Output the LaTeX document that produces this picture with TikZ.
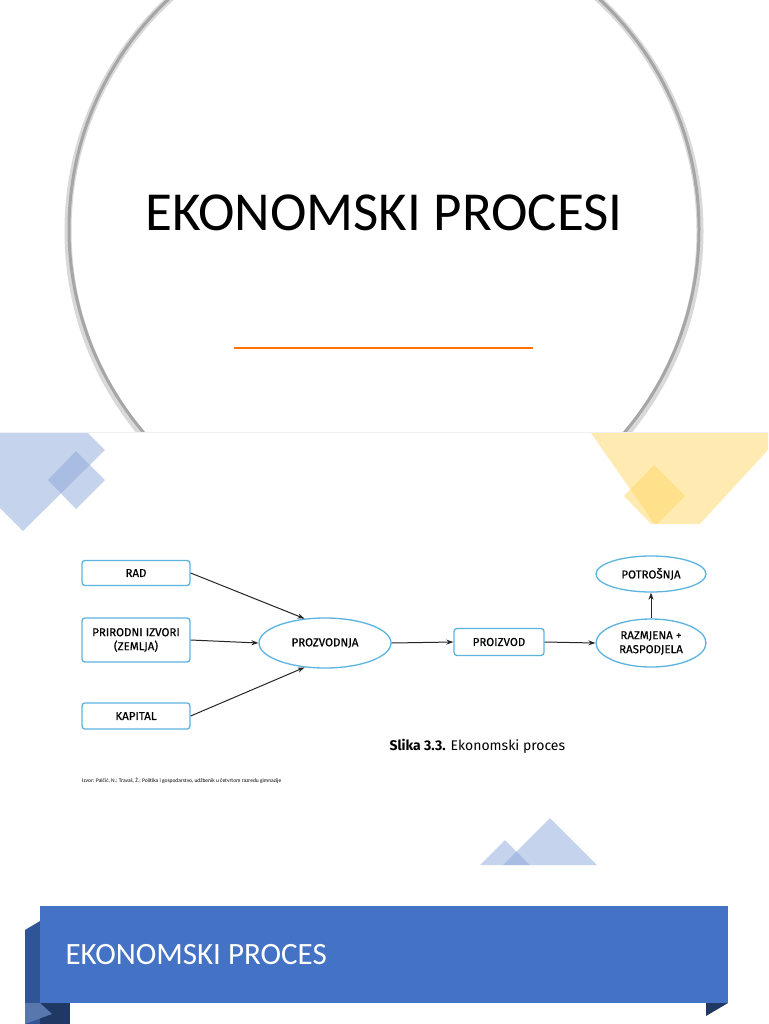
\documentclass[tikz,border=0pt]{standalone}
\usepackage{fontspec}
\setmainfont{Carlito}
\newfontfamily\diag[FakeBold=0.6]{Fira Sans}
\usetikzlibrary{shapes.geometric,arrows.meta}
\definecolor{bx}{HTML}{5BB4E0}
\definecolor{lb}{HTML}{8EA9DB}
\definecolor{yl}{HTML}{FFD966}
\definecolor{ban}{HTML}{4472C4}
\definecolor{bandk}{HTML}{2F5597}
\definecolor{navy}{HTML}{203864}
\tikzset{
 rbox/.style={draw=bx,line width=1.3pt,rounded corners=3pt,minimum width=108pt,align=center,font=\diag\fontsize{11.5}{14}\selectfont},
 ell/.style={ellipse,draw=bx,line width=1.3pt,align=center,font=\diag\fontsize{11.5}{14}\selectfont,inner sep=0pt},
 arr/.style={-{Stealth[length=7pt,width=5pt]},line width=1pt,black!85}
}
\begin{document}
\begin{tikzpicture}[x=1pt,y=-1pt]
\useasboundingbox (0,0) rectangle (768,1024);
\fill[white] (0,0) rectangle (768,1024);
% title circle
\begin{scope}
\clip (0,0) rectangle (768,432);
\draw[line width=7pt,black!15] (384,231) circle (316);
\draw[line width=3pt,black!35] (384,229) circle (315);
\end{scope}
\draw[black!6] (0,432.5) -- (768,432.5);
\node[font=\fontsize{55}{60}\selectfont] (title) at (384,213) {EKONOMSKI PROCESI};
\draw[line width=1.5pt,orange!90!red] (234,348) -- (533,348);
% decorations
\fill[lb,opacity=0.5] (0,433) -- (88,433) -- (105,450) -- (23,531) -- (0,508) -- cycle;
\fill[lb,opacity=0.5] (76,451) -- (105,480) -- (76,509) -- (48,480) -- cycle;
\begin{scope}
\clip (0,433) rectangle (768,523);
\fill[yl,opacity=0.5] (591,433) -- (768,433) -- (768,450) -- (674,552) -- cycle;
\fill[yl,opacity=0.5] (654,465) -- (685,496) -- (654,527) -- (624,496) -- cycle;
\end{scope}
\fill[lb,opacity=0.5] (550,818) -- (597,865) -- (503,865) -- cycle;
\fill[lb,opacity=0.5] (505,840) -- (530,865) -- (480,865) -- cycle;
% diagram
\node[rbox,minimum height=25pt] (rad) at (136,573) {RAD};
\node[rbox,minimum height=44pt] (pri) at (136,640) {PRIRODNI IZVORI\\(ZEMLJA)};
\node[rbox,minimum height=26pt] (kap) at (136,716) {KAPITAL};
\node[ell,minimum width=132pt,minimum height=50pt] (pro) at (325,643) {PROZVODNJA};
\node[rbox,minimum width=90pt,minimum height=27pt] (pz) at (499,642) {PROIZVOD};
\node[ell,minimum width=110pt,minimum height=48pt] (raz) at (651,643) {RAZMJENA +\\RASPODJELA};
\node[ell,minimum width=110pt,minimum height=36pt] (pot) at (651,574) {POTROŠNJA};
\draw[arr] (rad.east) -- (pro.130);
\draw[arr] (pri.east) -- (pro.west);
\draw[arr] (kap.east) -- (pro.230);
\draw[arr] (pro.east) -- (pz.west);
\draw[arr] (pz.east) -- (raz.west);
\draw[arr] (raz.north) -- (pot.south);
\node[anchor=west,font=\fontsize{14}{16}\selectfont\fontspec{Fira Sans}] (cap) at (386,746) {\textbf{Slika 3.3.} Ekonomski proces};
\node[anchor=west,font=\fontsize{5.5}{6}\selectfont,inner sep=0pt] (src) at (82,781) {Izvor: Palčić, N.; Travaš, Ž.; Politika i gospodarstvo, udžbenik u četvrtom razredu gimnazije};
% banner
\fill[bandk] (25,930) -- (40,921) -- (40,1024) -- (25,1024) -- cycle;
\fill[navy] (40,1003) -- (70,1003) -- (70,1024) -- (40,1024) -- cycle;
\fill[bandk!80] (25,1003) -- (40,1003) -- (52,1014) -- (25,1024) -- cycle;
\fill[navy] (706,1003) -- (728,1003) -- (706,1016) -- cycle;
\fill[ban] (40,906) rectangle (728,1003);
\node[anchor=west,text=white,font=\fontsize{31}{36}\selectfont] (bt) at (62,955) {EKONOMSKI PROCES};
\end{tikzpicture}
\end{document}
